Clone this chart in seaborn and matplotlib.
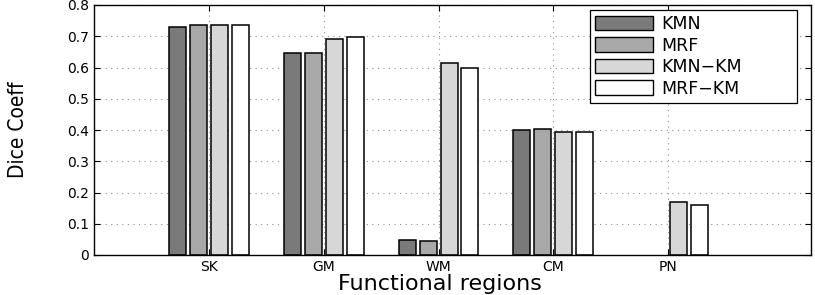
import matplotlib
matplotlib.use("Agg")
import matplotlib.pyplot as plt
import seaborn as sns
import pandas as pd

regions = ["SK", "GM", "WM", "CM", "PN"]
methods = ["KMN", "MRF", "KMN\u2212KM", "MRF\u2212KM"]
kmn = [0.731, 0.645, 0.047, 0.400, 0.0]
mrf = [0.735, 0.645, 0.044, 0.403, 0.0]
kmn_km = [0.735, 0.692, 0.613, 0.394, 0.169]
mrf_km = [0.735, 0.697, 0.597, 0.394, 0.159]
yticks = [0, 0.1, 0.2, 0.3, 0.4, 0.5, 0.6, 0.7, 0.8]
ytick_labels = ["0", "0.1", "0.2", "0.3", "0.4", "0.5", "0.6", "0.7", "0.8"]
colors = ["#7a7a7a", "#a8a8a8", "#d7d7d7", "#ffffff"]

rows = []
for m, vals in zip(methods, [kmn, mrf, kmn_km, mrf_km]):
    for r, v in zip(regions, vals):
        rows.append({"region": r, "method": m, "value": v})
df = pd.DataFrame(rows)

sns.set_style("white")
plt.rcParams["font.family"] = ["DejaVu Sans"]
plt.rcParams["text.color"] = "black"
plt.rcParams["axes.labelcolor"] = "black"
plt.rcParams["xtick.color"] = "black"
plt.rcParams["ytick.color"] = "black"

W, H = 815, 295
fig = plt.figure(figsize=(W / 100, H / 100), dpi=100)
ax = fig.add_axes([94 / W, (H - 255) / H, (811 - 94) / W, (255 - 5) / H])

sns.barplot(data=df, x="region", y="value", hue="method", order=regions,
            hue_order=methods, palette=colors, width=0.73, gap=0.19,
            edgecolor="black", linewidth=1.1, saturation=1, ax=ax, legend=True,
            zorder=3)

# zero-height bars are hidden by the axis line in the reference
for p in ax.patches:
    if abs(p.get_height()) < 1e-9:
        p.set_linewidth(0)

ax.set_xlim(-1, 5.243)
ax.set_ylim(0, 0.8)
ax.set_yticks(yticks)
ax.set_yticklabels(ytick_labels)

ax.set_axisbelow(True)
ax.grid(True, axis="both", linestyle=(0, (1, 4)), color="#909090", linewidth=0.8, zorder=0)

for s in ax.spines.values():
    s.set_visible(True)
    s.set_color("black")
    s.set_linewidth(1.0)
    s.set_zorder(5)

ax.tick_params(axis="both", direction="in", length=4, width=0.8, color="black",
               labelcolor="black", top=True, right=True, bottom=True, left=True,
               labelsize=10, pad=3.5)

ax.set_xlabel("Functional regions", fontsize=16, color="black")
ax.xaxis.set_label_coords((440 - 94) / (811 - 94), -0.074)
ax.set_ylabel("Dice Coeff", fontsize=15, fontstretch="condensed", color="black")
ax.yaxis.set_label_coords((28 - 94) / (811 - 94), 0.5)

# legend placed to match reference box (590..797, 10..82 px)
bx0 = 590 / W
by0 = (H - 82) / H
bw = (797 - 590) / W
bh = (82 - 10) / H
leg = ax.legend(loc="upper left", bbox_to_anchor=(bx0, by0, bw, bh),
                bbox_transform=fig.transFigure, mode="expand", ncol=1,
                fontsize=12.5, frameon=True, fancybox=False, framealpha=1,
                edgecolor="black", handlelength=3.3, handleheight=0.9,
                handletextpad=0.5, labelspacing=0.2, borderpad=0.3,
                borderaxespad=0)
leg.get_frame().set_linewidth(0.9)
leg.set_zorder(10)
for t in leg.get_texts():
    t.set_color("black")
for p in leg.get_patches():
    p.set_edgecolor("black")
    p.set_linewidth(1.0)

fig.savefig("out.png", dpi=100)
